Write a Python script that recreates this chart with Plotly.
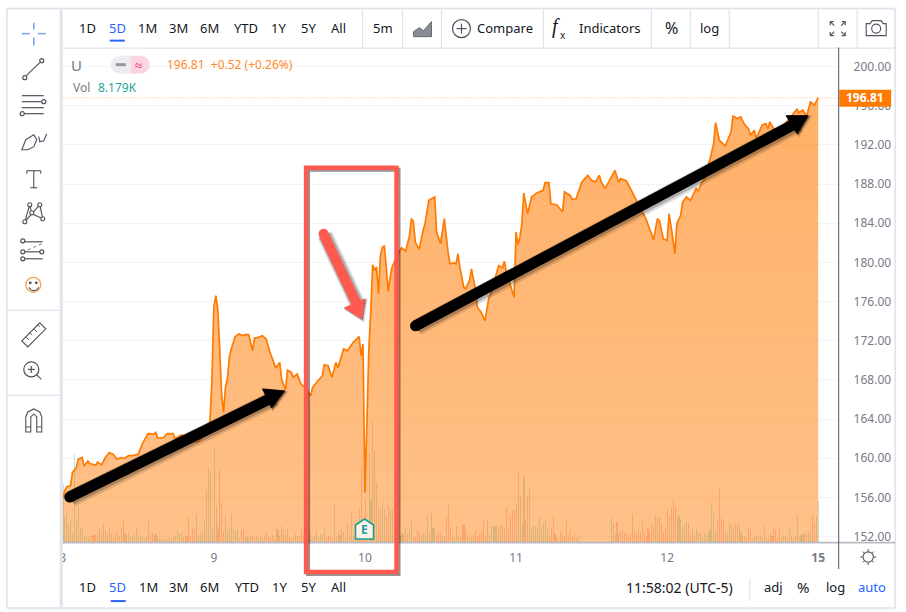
import numpy as np
import plotly.graph_objects as go

W, H = 906, 612
FONT = "Noto Sans"

# ---- data (bar index = 5-minute bars since the open of day 8) ----
price_bar = [0,1,2,4,5,7,8,10,11,13,14,17,18,20,22,24,26,28,30,32,34,36,39,41,44,47,48,49,52,54,57,58,61,63,66,68,70,73,75,76,77,78,79,80,81,82,83,84,85,86,87,89,91,93,94,96,98,99,101,103,105,107,110,112,113,115,116,118,119,121,123,125,128,129,131,134,135,137,139,141,142,145,147,150,153,154,155,156,157,158,159,160,161,162,163,164,165,166,167,168,169,170,173,174,175,177,179,180,181,182,184,186,187,189,191,192,193,195,197,199,200,202,203,204,205,207,208,210,211,213,214,216,218,220,221,223,225,227,228,229,233,234,235,236,237,238,240,242,245,248,249,251,252,255,258,259,262,263,265,268,271,273,275,277,278,280,285,287,288,291,294,298,301,305,307,308,310,312,313,315,316,317,319,320,322,324,327,328,330,331,334,336,337,339,341,342,345,346,347,348,350,352,354,355,357,358,361,363,364,365,367,370,373,376,379,380,382,384,386,388,390]
price_val = [155.97,156.66,157.06,157.17,158.53,159.04,159.9,160.07,159.2,159.7,159.45,159.28,159.62,159.32,160.07,160.55,160.41,159.9,160.07,160.0,160.27,160.27,160.41,161.43,162.52,162.46,162.63,162.05,162.11,162.52,162.52,162.0,162.35,162.28,162.05,161.7,161.7,162.39,162.97,163.82,167.9,175.42,176.6,175.25,171.33,166.55,164.67,167.23,168.15,170.3,171.16,172.42,172.69,172.52,172.62,172.62,170.99,172.28,172.35,172.52,172.18,170.81,169.21,169.79,168.09,166.96,169.0,168.77,168.26,168.6,167.57,167.23,166.38,167.23,167.74,168.43,169.55,169.45,168.26,169.79,169.21,171.16,170.99,171.84,172.42,170.47,171.67,156.48,163.5,171.0,175.0,179.76,179.18,179.52,176.79,180.71,181.57,181.67,179.52,177.03,178.5,179.52,180.89,181.23,181.5,181.16,182.76,184.47,184.2,182.08,181.33,183.27,183.96,186.34,186.52,186.69,183.1,181.91,184.47,180.89,179.86,179.96,179.86,180.89,179.52,177.47,177.3,178.16,179.35,177.3,175.43,174.91,174.06,176.45,176.79,178.32,179.69,179.45,180.13,179.0,176.45,183.1,181.8,182.6,183.95,187.09,184.98,186.68,187.13,187.37,188.15,188.15,186.0,185.9,185.15,187.2,186.85,186.44,186.51,188.22,188.9,188.39,188.22,188.9,188.22,187.54,189.41,188.22,188.56,188.32,187.2,185.66,184.47,182.32,184.47,184.3,182.42,182.25,184.98,182.42,180.88,183.95,184.81,186.17,186.68,186.34,187.54,187.3,188.2,188.39,190.43,192.14,194.29,192.48,192.14,191.9,193.33,194.94,194.87,194.7,194.87,194.08,193.67,192.99,193.5,192.65,194.02,194.19,193.67,194.36,193.67,193.4,194.2,194.9,195.65,195.31,195.55,194.97,196.4,196.06,196.85]
last_price = 196.81

vol_day8 = [11.6,5.0,6.0,3.5,4.4,1.9,17.6,4.6,7.3,2.8,2.6,1.1,1.2,0.9,1.2,1.4,1.6,1.4,1.8,2.6,1.6,3.9,2.4,1.8,3.1,1.9,1.1,1.8,2.0,1.3,2.8,4.7,1.8,1.4,2.1,1.2,1.0,1.6,3.0,1.5,1.0,1.3,0.9,1.2,4.6,1.6,1.8,1.4,1.7,1.0,0.6,0.8,0.5,0.7,0.6,0.9,0.7,1.1,1.2,2.2,1.6,1.8,1.0,1.5,1.2,5.2,1.2,2.6,2.9,5.7,1.4,1.8,2.5,4.4,10.4,15.0,13.6,3.0]
vol_day9 = [18.8,7.3,3.0,14.4,7.9,2.2,5.2,2.5,3.0,5.8,2.6,2.3,2.7,0.8,2.5,2.6,1.1,1.0,0.8,1.2,1.5,1.1,1.3,0.9,1.0,0.8,1.3,1.9,1.0,1.1,1.4,0.9,3.1,2.4,1.2,3.2,2.4,1.5,2.6,1.1,0.7,1.0,1.6,1.2,1.3,2.6,1.5,1.2,0.6,0.7,1.6,0.9,1.2,2.4,1.1,1.7,1.4,2.8,1.1,1.2,1.5,0.8,7.5,1.0,1.9,1.4,2.4,2.1,0.9,3.9,1.6,5.9,1.3,3.6,2.4,6.6,15.3,3.0]
vol_day10 = [8.6,3.0,17.6,8.4,24.4,18.2,11.8,6.8,6.9,7.8,6.6,5.0,7.4,6.6,6.4,2.5,2.0,1.6,1.2,1.8,1.6,2.8,1.9,2.5,4.6,1.3,1.0,2.6,2.0,1.2,1.8,1.4,5.4,2.0,5.8,2.9,3.0,1.5,1.9,1.6,1.3,1.2,5.2,7.4,3.1,1.4,0.9,3.2,1.6,1.0,3.4,3.6,2.6,1.7,1.1,1.0,1.5,2.3,1.2,1.9,2.3,4.4,1.3,4.5,1.6,3.2,3.2,3.2,3.5,2.4,3.4,3.2,2.6,6.9,2.9,5.2,6.3,6.4]
vol_day11_open = [7.7,14.3,9.3,3.8,13.0,4.5,9.3,10.6,2.8,3.2,3.3,2.9,5.2,3.0,3.8,4.6,2.7,1.3,3.1,5.2,1.6,1.1,0.9,2.0,1.7,1.3,4.3,1.5,2.8,1.0,1.9,0.9,1.3]
vol_to_close = [4.8,3.9,1.6,4.1,1.9,2.5,2.4,2.1,1.7,1.0,1.6,5.6,2.4,1.9,2.7,1.9,4.1,1.9,1.3,2.8,2.1,3.9,3.3,5.5,4.9,5.1,3.9,2.3,3.1,6.4,5.1,6.9,8.4,7.1,4.8,5.5,4.6,3.1,3.7,4.1,3.8,1.7,2.7,1.7,2.7,2.1,1.8,0.9,1.9,1.5,1.9,2.6,7.9,5.9,2.3,4.3,10.8,4.8,4.3,2.1,1.6,3.7,3.6,2.5,3.9,3.8,3.5,2.1,1.3,1.3,0.8,2.8,2.4,0.9,1.5,1.3,1.5,1.5,0.8,3.3,0.8,0.9,1.4,1.3,3.1,2.4,0.9,2.6,0.9,1.3,1.3,0.8,2.8,1.4,0.8,1.3,5.5,1.1,1.5,1.6,2.0,1.6,2.1,2.4,5.5,3.7,5.3,8.3]

tick_bars = [0,78,156,234,312,390]
tick_days = ["8","9","10","11","12","<b>15</b>"]
price_ticks = [152,156,160,164,168,172,176,180,184,188,192,196,200]
range_buttons = ["1D","5D","1M","3M","6M","YTD","1Y","5Y","All"]

# ---- derived ----
vol_x = (list(range(0,78)) + list(range(78,156)) + list(range(156,234)) +
         list(range(234,234+len(vol_day11_open))) +
         list(range(390-len(vol_to_close)+1, 391)))
vol_y = vol_day8 + vol_day9 + vol_day10 + vol_day11_open + vol_to_close
now = np.interp(vol_x, price_bar, price_val)
prev = np.interp(np.array(vol_x)-1, price_bar, price_val)
vol_c = ["rgba(38,166,154,0.30)" if a >= b else "rgba(239,83,80,0.32)" for a, b in zip(now, prev)]

ORANGE = "#FF7A00"
GREY = "#50535E"
LBL = "#787B86"
DARK = "#131722"
BLUE = "#2962FF"
RED = "#FF5A50"
EDGE = "#E0E3EB"

X0, X1, YT, YB = 62, 838, 47, 541
PX_PER_BAR = 151.2/78
x_range = [0, (X1-X0)/PX_PER_BAR]
PX_PER_USD = 39.08/4
y_range = [152-(YB-535.5)/PX_PER_USD, 200+(66-YT)/PX_PER_USD]

fig = go.Figure()
fig.add_trace(go.Bar(x=vol_x, y=vol_y, marker=dict(color=vol_c, line=dict(width=0)), width=0.55, yaxis="y", hoverinfo="skip"))
fig.add_trace(go.Scatter(x=price_bar, y=price_val, yaxis="y2", mode="lines", line=dict(color=ORANGE, width=1.7),
                         fill="tozeroy",
                         fillgradient=dict(type="vertical", start=y_range[0], stop=197,
                                           colorscale=[[0,"rgba(255,122,0,0.46)"],[1,"rgba(255,122,0,0.60)"]]),
                         hoverinfo="skip"))

# page position -> paper fraction (with correction measured against the render)
fx = lambda x: ((x-2.2)/0.9974)/W
fy = lambda y: 1-((y+0.6)/0.9943)/H
shapes, notes = [], []

def line(x0,y0,x1,y1,c=GREY,w=1.2,dash=None):
    shapes.append(dict(type="line",xref="paper",yref="paper",x0=fx(x0),y0=fy(y0),x1=fx(x1),y1=fy(y1),
                       line=dict(color=c,width=w,dash=dash) ,layer="above"))
def rect(x0,y0,x1,y1,fill=None,c=None,w=0):
    shapes.append(dict(type="rect",xref="paper",yref="paper",x0=fx(x0),y0=fy(y0),x1=fx(x1),y1=fy(y1),
                       fillcolor=fill or "rgba(0,0,0,0)",line=dict(color=c or "rgba(0,0,0,0)",width=w),layer="above"))
def circ(cx,cy,r,fill=None,c=GREY,w=1.2):
    shapes.append(dict(type="circle",xref="paper",yref="paper",x0=fx(cx-r),y0=fy(cy-r),x1=fx(cx+r),y1=fy(cy+r),
                       fillcolor=fill or "rgba(0,0,0,0)",line=dict(color=c,width=w),layer="above"))
def poly(pts,fill=None,c=GREY,w=1.2,close=True):
    d="M"+" L".join(f"{fx(a):.5f},{fy(b):.5f}" for a,b in pts)+(" Z" if close else "")
    shapes.append(dict(type="path",xref="paper",yref="paper",path=d,fillcolor=fill or "rgba(0,0,0,0)",
                       line=dict(color=c,width=w),layer="above"))
def txt(x,y,s,c=DARK,size=13,anchor="center",family=FONT):
    notes.append(dict(xref="paper",yref="paper",x=fx(x),y=fy(y-1),text=s,showarrow=False,xanchor=anchor,yanchor="middle",
                      font=dict(family=family,size=size,color=c),borderpad=0,borderwidth=0))

# sidebar and frame
rect(7,9,59,606,fill="white")
rect(59,9,62,606,fill=EDGE)
line(6,8,895,8,EDGE,1.6); line(6,8,6,607,EDGE,1.6); line(895,8,895,607,EDGE,1.6); line(6,607,895,607,EDGE,1.6)
line(6,309.5,59,309.5,EDGE,1.2); line(6,394.5,59,394.5,EDGE,1.2)
line(62,47.5,895,47.5,EDGE,1.2)
for sx in [362,402,441,543,651,690,729,818,857]:
    line(sx,9,sx,47,EDGE,1.2)
line(62,541.5,895,541.5,"#B8BBC3",1.8)
line(838.5,47,838.5,568,GREY,1.0)
line(749.5,578,749.5,600,EDGE,1.2)

# top toolbar
for b,x in zip(range_buttons,[87,117,147,178,209,245,278,308,338]):
    txt(x,28,b,BLUE if b=="5D" else DARK)
line(109,40,124,40,BLUE,2)
txt(382,28,"5m")
poly([(413,36),(413,31),(419,27),(423,30),(431,21),(431,36)],fill="#8A8D96",c=GREY,w=0.8)
circ(461,28,9)
line(461,23,461,33); line(456,28,466,28)
txt(505,28,"Compare",anchor="center")
txt(556,27,"<i>f</i>",size=20,family="Liberation Serif")
txt(563,35,"x",size=10)
txt(609.5,28,"Indicators")
txt(671,28,"%",size=16)
txt(709,28,"log")
# fullscreen
for sx,sy,tx,ty in [(830,21,834,25),(845,21,841,25),(830,35,834,31),(845,35,841,31)]:
    line(sx,sy,tx,ty); line(sx,sy,sx+(tx-sx)*0.9,sy); line(sx,sy,sx,sy+(ty-sy)*0.9)
# camera
poly([(866,23),(870,23),(872,20),(881,20),(883,23),(886,23),(886,35),(866,35)],w=1.1)
circ(876,28,4.5,w=1.1)

# legend
txt(76,65,"U",LBL,15)
rect(119,55,130,73,fill="#ECEDEF")
circ(119,64,9,fill="#ECEDEF",c="#ECEDEF",w=0)
circ(140,64,9,fill="#FBD5E0",c="#FBD5E0",w=0)
rect(130,55,140,73,fill="#FBD5E0")
rect(115,62.5,125,65.5,fill="#9598A1")
txt(138,65,"≈","#E91E63",13)
txt(166,65,"196.81  +0.52 (+0.26%)","#FF8A2A",12,anchor="left")
txt(72,88,"Vol",LBL,12,anchor="left")
txt(97,88,"8.179K","#26A69A",12,anchor="left")

# last price line + label
shapes.append(dict(type="line",xref="paper",yref="y2",x0=fx(X0),x1=fx(X1),y0=last_price,y1=last_price,
                   line=dict(color="#FFB98A",width=1,dash="1px,2px"),layer="above"))
rect(839,89,891,106,fill="#FF7A00")
txt(865,98,"<b>196.81</b>","white",12)

# left icons
line(21,33,29,33,"#82A9F5",1.6); line(37,33,45,33,"#82A9F5",1.6); line(33,22,33,29,"#82A9F5",1.6); line(33,37,33,45,"#82A9F5",1.6)
line(25.5,75,39,62); circ(24,77,2,fill="white"); circ(41,60,2,fill="white")
line(21,95,43,95); line(21,101,41,101); circ(43,101,2,fill="white"); line(21,107,43,107); line(24,113,43,113); circ(21.5,113,2,fill="white")
poly([(21,149),(25,139),(33,134),(36,139),(33,146),(27,149)],w=1.1)
poly([(38,136),(39,141),(43,140),(46,133)],close=False,w=1.1)
line(26,170,40,170,w=1.1); line(33,170,33,187,w=1.1); line(29.5,187,36.5,187,w=1.1); line(26,170,26,173,w=1.1); line(40,170,40,173,w=1.1)
poly([(24,221),(29,204),(31,213),(39,204),(42,218),(31,213),(24,221)],close=False,w=1.1)
for a,b in [(24,221),(29,204),(39,204),(42,218)]:
    circ(a,b,2,fill="white",w=1.1)
circ(31,212,2,fill="white",w=1.1)
line(23,241,42,241); circ(22,240,2,fill="white")
line(23,251,40,251); circ(22,251,2,fill="white"); circ(41,251,2,fill="white")
line(24,258,42,258); circ(22,258,2,fill="white")
line(27,249,41,243,w=0.8,dash="dot")
circ(32.5,284,7.5,c="#F7A64A",w=1.3)
circ(29.5,282,0.8,fill=GREY,c=GREY); circ(35.5,282,0.8,fill=GREY,c=GREY)
poly([(28,286.5),(30,289),(33,290),(36,289),(38,286.5)],close=False,w=1.1)
poly([(21,340),(39,322),(45,328),(27,346)],w=1.1)
for a,b,c,d in [(25,336,28,339),(29,332,31,334),(33,328,36,331),(37,324,39,326)]:
    line(a,b,c,d,w=1)
circ(30.5,368.5,7.5); line(30.5,365,30.5,372); line(27,368.5,34,368.5); line(36,374,40.5,378.5)
poly([(25,431),(25,416),(27,411),(33,408),(39,411),(41,416),(41,431),(36,431),(36,416),(33,413),(30,416),(30,431)],w=1.1)
line(25,426,30,426,w=1); line(36,426,41,426,w=1)

# bottom toolbar
for b,x in zip(range_buttons,[87,117,148,178,209,246,279,308,338]):
    txt(x,587,b,BLUE if b=="5D" else DARK)
line(110,600,125,600,BLUE,2)
txt(679,587,"11:58:02 (UTC-5)",size=14)
txt(773,587,"adj"); txt(803,587,"%",size=15); txt(835,587,"log"); txt(872,587,"auto",BLUE)

# settings gear
circ(868,556,5.2,w=1.1)
for a,b,c,d in [(868,548,868,550.5),(868,561.5,868,564),(860,556,862.5,556),(873.5,556,876,556),(862.5,550.5,864,552),(873.5,550.5,872,552),(862.5,561.5,864,560),(873.5,561.5,872,560)]:
    line(a,b,c,d,w=1)

# earnings flag
poly([(355,538),(355,524),(364,518),(373,524),(373,538)],fill="rgba(255,255,255,0.82)",c="#1E9E98",w=1.6)
txt(364,529,"<b>E</b>","#1E9E98",12)

# annotations: red box
rect(307.5,169,398,573,c="rgba(0,0,0,0.42)",w=4)
rect(305.5,167,396,571,c=RED,w=4.5)

def arrow(x0,y0,lx,ly,tip,b1,b2,c,w):
    for dw,al,off in [(6,0.12,1.5),(3,0.22,1)]:
        sc=f"rgba(0,0,0,{al})"
        line(x0+off,y0+off,lx+off,ly+off,sc,w+dw)
        poly([(tip[0]+off,tip[1]+off),(b1[0]+off,b1[1]+off),(b2[0]+off,b2[1]+off)],fill=sc,c=sc,w=dw/2)
    line(x0,y0,lx,ly,c,w)
    circ(x0,y0,w/2,fill=c,c=c,w=0)
    poly([tip,b1,b2],fill=c,c=c,w=1)

arrow(69,496,273,396,(284,390),(262,388),(271,407),"#000000",11)
arrow(415,325,797,122,(808,115),(786,115),(797,133),"#000000",11)
arrow(323,233,357,305,(361,318),(344,307),(364,298),RED,10)

fig.update_layout(
    width=W,height=H,margin=dict(l=0,r=0,t=0,b=0),paper_bgcolor="white",plot_bgcolor="white",
    showlegend=False,bargap=0,barmode="overlay",
    font=dict(family=FONT,size=12,color=LBL),
    shapes=shapes,annotations=notes,
    xaxis=dict(domain=[fx(X0),fx(X1)],range=x_range,tickmode="array",tickvals=tick_bars,ticktext=tick_days,
               showgrid=False,zeroline=False,showline=False,ticks="outside",ticklen=5,tickcolor="rgba(0,0,0,0)",
               tickfont=dict(family=FONT,size=12,color=LBL)),
    yaxis=dict(domain=[fy(YB),fy(YT)],range=[0,98.8],visible=False,fixedrange=True),
    yaxis2=dict(domain=[fy(YB),fy(YT)],overlaying="y",side="right",range=y_range,tickmode="array",
                tickvals=price_ticks,ticktext=[f"{v:.2f}" for v in price_ticks],
                showgrid=True,gridcolor="#F3F4F6",gridwidth=1,zeroline=False,showline=False,
                ticks="outside",ticklen=12,tickcolor="rgba(0,0,0,0)",
                tickfont=dict(family=FONT,size=12,color=LBL)),
)
fig.write_html("out.html",config=dict(displayModeBar=False),post_script="document.body.style.margin='0';")
